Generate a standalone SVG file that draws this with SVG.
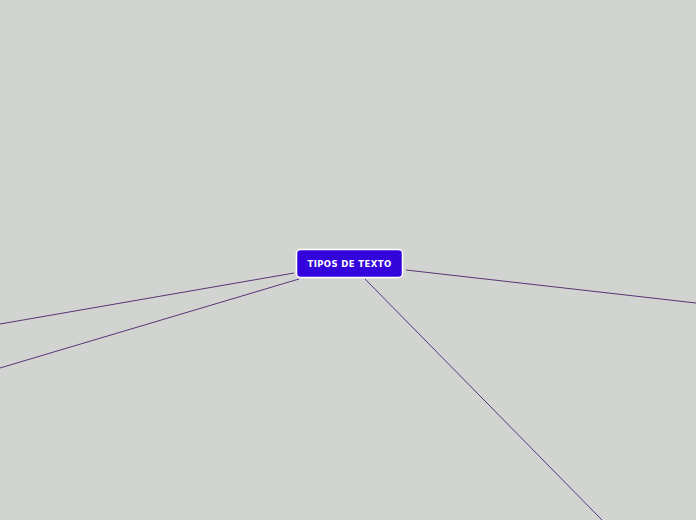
<svg xmlns="http://www.w3.org/2000/svg" width="696" height="520" viewBox="0 0 696 520">
<style>
.conn{stroke:#5c3478;stroke-width:1;fill:none}
.node rect{fill:#3404dc;stroke:#ffffff;stroke-width:1.5}
.node text{font-family:"DejaVu Sans",Verdana,sans-serif;font-size:8.5px;font-weight:bold;fill:#ffffff;text-anchor:middle;letter-spacing:0.4px}
</style>
<rect x="0" y="0" width="696" height="520" fill="#d2d4d1"/>
<g id="connectors">
<line class="conn" x1="294" y1="273" x2="0" y2="324"/>
<line class="conn" x1="299" y1="279" x2="0" y2="368"/>
<line class="conn" x1="406" y1="270" x2="696" y2="303"/>
<line class="conn" x1="365" y1="279" x2="602" y2="520"/>
</g>
<g id="node-tipos" class="node">
<rect x="296.5" y="249.5" width="106" height="28" rx="4"/>
<text x="349.5" y="267">TIPOS DE TEXTO</text>
</g>
</svg>
